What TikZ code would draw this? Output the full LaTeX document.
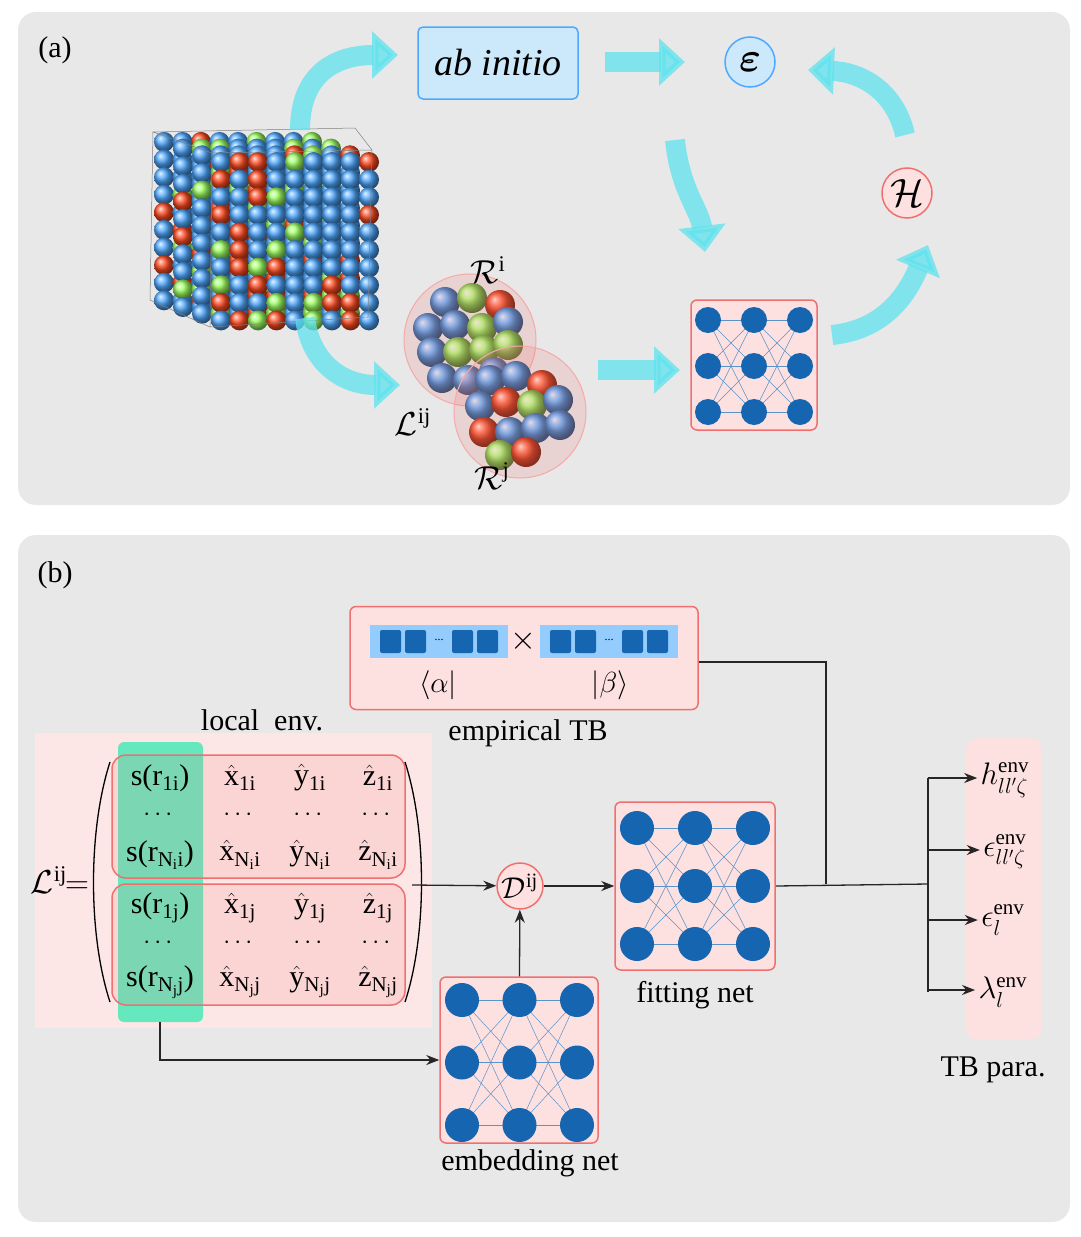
\documentclass[tikz,border=0pt]{standalone}
\usepackage{amsmath}
\usepackage{graphicx}
\usepackage{fontspec}
\setmainfont{Liberation Serif}
\usetikzlibrary{arrows.meta}
\newcommand\mbig[2][1.6]{\scalebox{#1}{#2}}
\definecolor{panel}{HTML}{E8E8E8}
\definecolor{pinkf}{HTML}{FDE0E0}
\definecolor{pinkd}{HTML}{F07070}
\definecolor{nnblue}{HTML}{1565B0}
\definecolor{cyanA}{HTML}{5FE3EE}
\definecolor{sblue}{HTML}{4FA8FF}
\definecolor{sgreen}{HTML}{9CFF60}
\definecolor{sred}{HTML}{FF4A20}
\definecolor{lblue}{HTML}{CCE9FB}
\definecolor{mgreen}{HTML}{66E8BF}
\begin{document}
\begin{tikzpicture}[x=1pt,y=-1pt,
  txt/.style={font=\fontsize{30}{32}\selectfont},
  mth/.style={font=\fontsize{20}{24}\selectfont},
  mtx/.style={font=\fontsize{30}{32}\selectfont,inner sep=0pt},
  pinkbox/.style={fill=pinkf,draw=pinkd,line width=1.5pt,rounded corners=6pt},
  nn/.style={circle,fill=nnblue,inner sep=0pt},
  wire/.style={nnblue!70,line width=0.5pt},
  bigarrow/.style={cyanA,opacity=0.75,line width=20pt,-{Triangle[length=26pt,width=46pt]}},
  conn/.style={line width=1.3pt,black!85,-{Stealth[length=13pt,width=10pt]}},
  line/.style={line width=1.3pt,black!85}]
\useasboundingbox (0,0) rectangle (1080,1237);
\fill[white] (0,0) rectangle (1080,1237);
\fill[panel,rounded corners=18pt] (18,12) rectangle (1070,505);
\fill[panel,rounded corners=18pt] (18,535) rectangle (1070,1222);
\node[txt] (la) at (55,50) {(a)};
\node[txt] (lb) at (55,575) {(b)};

% ---------- cube
\pgfmathsetseed{11}
\foreach \d in {3,2,1,0}{
 \foreach \r in {0,...,9}{
  \foreach \c in {0,...,8}{
   \pgfmathrandominteger{\rr}{1}{10}
   \ifnum\rr<7 \def\col{sblue}\else\ifnum\rr<9 \def\col{sgreen}\else\def\col{sred}\fi\fi
   \shade[ball color=\col] (221+\c*18.5-\d*19,162+\r*17.6-\d*6.7) circle (10);
  }}}
\draw[gray,line width=0.5pt] (153,132)--(355,128)--(372,150)--(212,153)--cycle (212,153)--(210,327)--(368,317)--(372,150) (153,132)--(150,300)--(210,327);

% ---------- two spheres
\begin{scope}
\pgfmathsetseed{5}
\foreach \x/\y in {445/302,472/298,500/305,428/328,455/325,482/328,508/322,432/352,458/352,484/350,508/345,442/378,468/380,494/372}{
  \pgfmathrandominteger{\rr}{1}{3}
  \ifcase\rr\or\def\col{sblue}\or\def\col{sgreen}\or\def\col{sred}\fi
  \shade[ball color=\col] (\x,\y) circle (15);}
\fill[pinkd,opacity=0.18] (470,340) circle (66);
\draw[pinkd!60,line width=1pt] (470,340) circle (66);
\foreach \x/\y in {490/380,516/376,542/385,480/406,506/402,532/405,558/400,484/432,510/432,536/428,560/425,500/455,526/452}{
  \pgfmathrandominteger{\rr}{1}{3}
  \ifcase\rr\or\def\col{sblue}\or\def\col{sgreen}\or\def\col{sred}\fi
  \shade[ball color=\col] (\x,\y) circle (15);}
\fill[pinkd,opacity=0.18] (520,412) circle (66);
\draw[pinkd!60,line width=1pt] (520,412) circle (66);
\end{scope}
\node[mth] (Ri) at (488,270) {\mbig{$\mathcal{R}^{\mathrm{i}}$}};
\node[mth] (Rj) at (492,476) {\mbig{$\mathcal{R}^{\mathrm{j}}$}};
\node[mth] (Lij) at (413,422) {\mbig{$\mathcal{L}^{\mathrm{ij}}$}};

% ---------- top nodes
\node[draw=sblue,fill=lblue,line width=1.5pt,rounded corners=5pt,minimum width=160pt,minimum height=72pt,font=\fontsize{38}{40}\selectfont\itshape] (abi) at (498,63) {ab initio};
\node[circle,draw=sblue,fill=lblue,line width=1.5pt,minimum size=50pt,inner sep=0pt,mth] (eps) at (750,62) {\mbig[2]{$\boldsymbol{\varepsilon}$}};
\node[circle,draw=pinkd,fill=pinkf,line width=1.5pt,minimum size=50pt,inner sep=0pt,mth] (H) at (907,193) {\mbig[1.9]{$\mathcal{H}$}};
\node[pinkbox,minimum width=126pt,minimum height=130pt] (nnA) at (754,365) {};
\foreach \i in {0,1,2}{\foreach \j in {0,1,2}{\coordinate (a\i\j) at (708+46*\i,320+46*\j);}}
\foreach \j in {0,1,2}{\foreach \k in {0,1,2}{\draw[wire] (a0\j)--(a1\k); \draw[wire] (a1\j)--(a2\k);}}
\foreach \i in {0,1,2}{\foreach \j in {0,1,2}{\node[nn,minimum size=26pt] at (a\i\j) {};}}

% cyan arrows
\draw[bigarrow] (300,130) .. controls (300,70) and (340,55) .. (398,55);
\draw[bigarrow] (605,62) -- (685,62);
\draw[bigarrow] (675,140) .. controls (680,190) and (700,210) .. (705,252);
\draw[bigarrow] (905,135) .. controls (895,90) and (860,72) .. (808,70);
\draw[bigarrow] (832,335) .. controls (880,330) and (905,300) .. (928,245);
\draw[bigarrow] (305,318) .. controls (310,360) and (340,385) .. (400,385);
\draw[bigarrow] (598,370) -- (680,370);

% ---------- panel b
\node[pinkbox,minimum width=348pt,minimum height=103pt] (etb) at (524,658) {};
\fill[sblue!45!lblue] (370,625) rectangle (508,658);
\fill[sblue!45!lblue] (540,625) rectangle (678,658);
\foreach \x in {380,405,452,477,550,575,622,647}{\fill[nnblue,rounded corners=2pt] (\x,630) rectangle +(21,23);}
\node[font=\fontsize{12}{12}\selectfont] at (439,640) {...};
\node[font=\fontsize{12}{12}\selectfont] at (609,640) {...};
\node[mth] at (523,641) {\mbig{$\times$}};
\node[mth] at (438,685) {\mbig[1.4]{$\langle\alpha|$}};
\node[mth] at (610,685) {\mbig[1.4]{$|\beta\rangle$}};
\node[txt] at (528,733) {empirical TB};
\node[txt] at (262,720) {local\enspace env.};

\fill[pinkf!80!white] (35,733) rectangle (432,1028);
\fill[mgreen,rounded corners=6pt] (118,742) rectangle (203,1022);
\fill[pinkd,opacity=0.15,rounded corners=14pt] (112,755) rectangle (405,878);
\draw[pinkd,line width=1.5pt,rounded corners=14pt] (112,755) rectangle (405,878);
\fill[pinkd,opacity=0.15,rounded corners=14pt] (112,884) rectangle (405,1005);
\draw[pinkd,line width=1.5pt,rounded corners=14pt] (112,884) rectangle (405,1005);
\draw[line width=1.3pt] (110,762) .. controls (88,830) and (88,935) .. (110,1002);
\draw[line width=1.3pt] (405,762) .. controls (427,830) and (427,935) .. (405,1002);
\node[mth] (Lb) at (60,880) {\mbig{$\mathcal{L}^{\mathrm{ij}}\!\!=$}};
\node[mtx] at (160,778) {s(r$_{\text{1i}}$)};
\node[mtx] at (240,778) {$\hat{\mathrm{x}}_{\mathrm{1i}}$};
\node[mtx] at (310,778) {$\hat{\mathrm{y}}_{\mathrm{1i}}$};
\node[mtx] at (378,778) {$\hat{\mathrm{z}}_{\mathrm{1i}}$};
\node[mtx] at (160,855) {s(r$_{\mathrm{N_ii}}$)};
\node[mtx] at (240,855) {$\hat{\mathrm{x}}_{\mathrm{N_ii}}$};
\node[mtx] at (310,855) {$\hat{\mathrm{y}}_{\mathrm{N_ii}}$};
\node[mtx] at (378,855) {$\hat{\mathrm{z}}_{\mathrm{N_ii}}$};
\node[mtx] at (160,908) {s(r$_{\text{1j}}$)};
\node[mtx] at (240,908) {$\hat{\mathrm{x}}_{\mathrm{1j}}$};
\node[mtx] at (310,908) {$\hat{\mathrm{y}}_{\mathrm{1j}}$};
\node[mtx] at (378,908) {$\hat{\mathrm{z}}_{\mathrm{1j}}$};
\node[mtx] at (160,982) {s(r$_{\mathrm{N_jj}}$)};
\node[mtx] at (240,982) {$\hat{\mathrm{x}}_{\mathrm{N_jj}}$};
\node[mtx] at (310,982) {$\hat{\mathrm{y}}_{\mathrm{N_jj}}$};
\node[mtx] at (378,982) {$\hat{\mathrm{z}}_{\mathrm{N_jj}}$};
\foreach \x in {160,240,310,378}{\node[mtx] at (\x,815) {$\cdots$}; \node[mtx] at (\x,943) {$\cdots$};}
\coordinate (mR) at (412,885);
\coordinate (gB) at (160,1022);

\node[circle,draw=pinkd,fill=pinkf,line width=1.5pt,minimum size=46pt,inner sep=0pt,mth] (D) at (520,886) {\mbig[1.45]{$\mathcal{D}^{\mathrm{ij}}$}};
\node[pinkbox,minimum width=160pt,minimum height=168pt] (fit) at (695,886) {};
\foreach \i in {0,1,2}{\foreach \j in {0,1,2}{\coordinate (f\i\j) at (637+58*\i,828+58*\j);}}
\foreach \j in {0,1,2}{\foreach \k in {0,1,2}{\draw[wire] (f0\j)--(f1\k); \draw[wire] (f1\j)--(f2\k);}}
\foreach \i in {0,1,2}{\foreach \j in {0,1,2}{\node[nn,minimum size=34pt] at (f\i\j) {};}}
\node[txt] at (695,995) {fitting net};
\node[pinkbox,minimum width=158pt,minimum height=166pt] (emb) at (519,1060) {};
\foreach \i in {0,1,2}{\foreach \j in {0,1,2}{\coordinate (e\i\j) at (462+57.5*\i,1000+62.5*\j);}}
\foreach \j in {0,1,2}{\foreach \k in {0,1,2}{\draw[wire] (e0\j)--(e1\k); \draw[wire] (e1\j)--(e2\k);}}
\foreach \i in {0,1,2}{\foreach \j in {0,1,2}{\node[nn,minimum size=34pt] at (e\i\j) {};}}
\node[txt] at (530,1163) {embedding net};

\draw[conn] (mR) -- (D);
\draw[conn] (D) -- (fit);
\draw[conn] (emb) -- (D);
\draw[conn] (gB) |- (emb.west);
\coordinate (jn) at (826,884);
\coordinate (bar) at (928,884);
\draw[line] (fit.east) -- (bar);
\draw[line] (etb.east |- 0,662) -| (jn);

\fill[pinkf,rounded corners=12pt] (966,738) rectangle (1042,1040);
\node[mth] (t1) at (1005,780) {\mbig[1.5]{$h^{\mathrm{env}}_{ll'\zeta}$}};
\node[mth] (t2) at (1005,852) {\mbig[1.5]{$\epsilon^{\mathrm{env}}_{ll'\zeta}$}};
\node[mth] (t3) at (1003,920) {\mbig[1.5]{$\epsilon^{\mathrm{env}}_{l}$}};
\node[mth] (t4) at (1003,992) {\mbig[1.5]{$\lambda^{\mathrm{env}}_{l}$}};
\draw[line] (928,778) -- (928,992);
\foreach \y/\t in {778/t1,850/t2,920/t3,990/t4}{\draw[conn] (928,\y) -- (\t.west |- 0,\y);}
\node[txt] at (993,1070) {TB para.};
\end{tikzpicture}
\end{document}
